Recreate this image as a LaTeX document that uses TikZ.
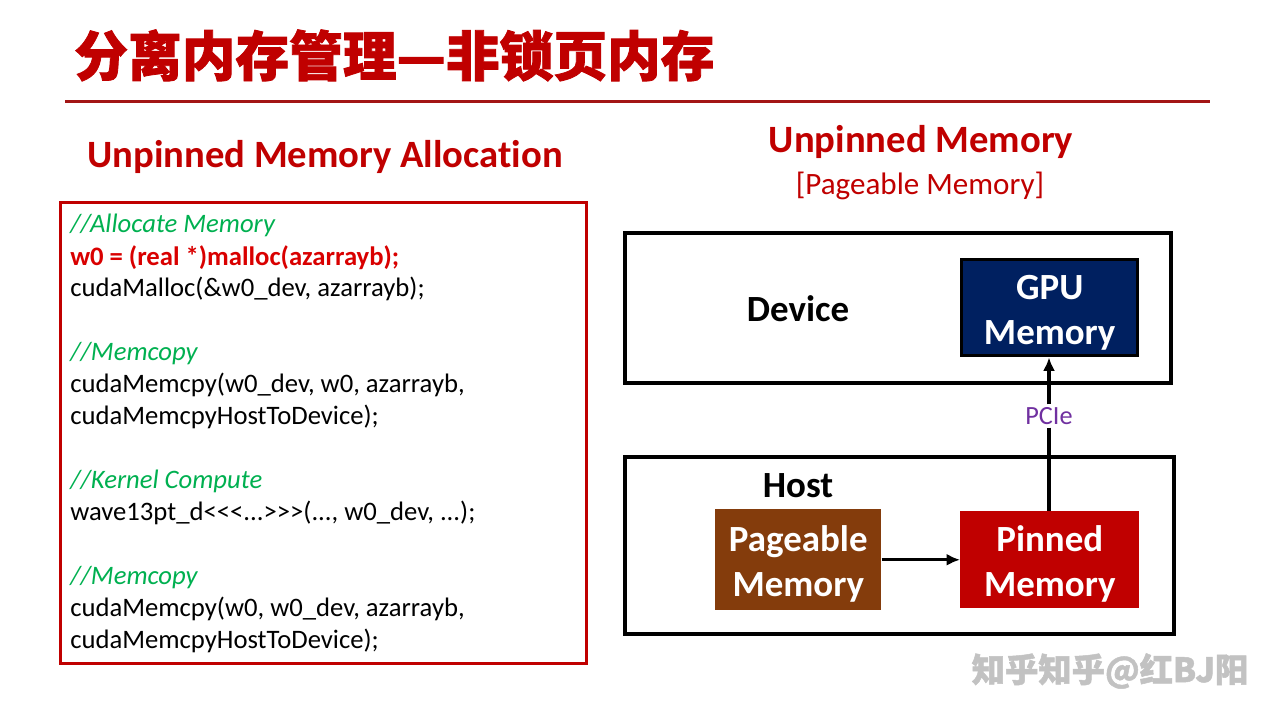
\documentclass[tikz,border=0pt]{standalone}
\usepackage{fontspec}
\setmainfont[Ligatures=NoCommon]{Carlito}
\newfontfamily\cjk[BoldFeatures={FakeBold=1.5}]{Noto Sans CJK SC}
\usetikzlibrary{arrows.meta}
\definecolor{titlered}{HTML}{C00000}
\definecolor{rulered}{HTML}{A31515}
\definecolor{codegreen}{HTML}{00B050}
\definecolor{navy}{HTML}{002060}
\definecolor{brownbox}{HTML}{843C0C}
\definecolor{pciepurple}{HTML}{7030A0}
\tikzset{
 x=0.75pt,y=-0.75pt,
 codeline/.style={anchor=base west,inner sep=0,font=\fontsize{20pt}{22pt}\selectfont},
 comment/.style={codeline,text=codegreen,font=\fontsize{20pt}{22pt}\selectfont\itshape},
 heading/.style={inner sep=0,anchor=base,text=titlered,font=\fontsize{29pt}{32pt}\selectfont\bfseries},
 region/.style={draw=black,line width=3pt,fill=white,inner sep=0},
 membox/.style={inner sep=0,text=white,align=center,font=\fontsize{27.7pt}{27.7pt}\selectfont\bfseries},
 plainlabel/.style={anchor=base,inner sep=0,font=\fontsize{27.7pt}{30pt}\selectfont\bfseries},
 dark/.style={line width=2.4pt,-{Latex[length=10pt,width=9pt]}},
}
\begin{document}
\begin{tikzpicture}
\useasboundingbox (0,0) rectangle (1280,720);
\node[anchor=base west,inner sep=0,text=titlered,font=\cjk\bfseries\fontsize{40.3pt}{44pt}\selectfont] (title) at (74,76) {分离内存管理—非锁页内存};
\coordinate (ruleL) at (65,101.5);
\coordinate (ruleR) at (1210,101.5);
\draw[rulered,line width=2.4pt] (ruleL) -- (ruleR);

\node[heading] (allochead) at (325,168) {Unpinned Memory Allocation};
\node[heading] (memhead) at (921,153) {Unpinned Memory};
\node[anchor=base,inner sep=0,text=titlered,font=\fontsize{23.3pt}{26pt}\selectfont] (pagehead) at (920,194.5) {[Pageable Memory]};

\node[draw=titlered,line width=2.2pt,inner sep=0,minimum width=526*0.75pt,minimum height=461*0.75pt,anchor=north west] (codebox) at (59,201) {};
\node[comment] (c1) at (70,233) {//Allocate Memory};
\node[codeline,text=red!85!black,font=\fontsize{20pt}{22pt}\selectfont\bfseries] (c2) at (70,265) {w0 = (real *)malloc(azarrayb);};
\node[codeline] (c3) at (70,296.5) {cudaMalloc(\&w0\_dev, azarrayb);};
\node[comment] (c4) at (70,360) {//Memcopy};
\node[codeline] (c5) at (70,392) {cudaMemcpy(w0\_dev, w0, azarrayb,};
\node[codeline] (c6) at (70,424) {cudaMemcpyHostToDevice);};
\node[comment] (c7) at (70,488) {//Kernel Compute};
\node[codeline] (c8) at (70,520.5) {wave13pt\_d<{}<{}<...>{}>{}>(..., w0\_dev, ...);};
\node[comment] (c9) at (70,584) {//Memcopy};
\node[codeline] (c10) at (70,616) {cudaMemcpy(w0, w0\_dev, azarrayb,};
\node[codeline] (c11) at (70,648) {cudaMemcpyHostToDevice);};

\node[region,minimum width=546*0.75pt,minimum height=150*0.75pt,anchor=north west] (device) at (623,231) {};
\node[region,minimum width=549*0.75pt,minimum height=177*0.75pt,anchor=north west] (host) at (623,455) {};

\node[plainlabel] (devlabel) at (798,321) {Device};
\node[plainlabel] (hostlabel) at (798,497) {Host};

\node[membox,fill=navy,draw=black,line width=2.6pt,minimum width=176*0.75pt,minimum height=96*0.75pt,anchor=north west] (gpu) at (960,258) {\rule{0pt}{25.5pt}GPU\\[6pt]Memory};
\node[membox,fill=brownbox,minimum width=166*0.75pt,minimum height=101*0.75pt,anchor=north west] (pageable) at (715,509) {\rule{0pt}{25pt}Pageable\\[6pt]Memory};
\node[membox,fill=titlered,minimum width=179*0.75pt,minimum height=97*0.75pt,anchor=north west] (pinned) at (960,511) {\rule{0pt}{25pt}Pinned\\[6pt]Memory};

\node[inner sep=2pt,fill=white,text=pciepurple,font=\fontsize{19.7pt}{22pt}\selectfont] (pcie) at (1049,416) {PCIe};
\draw[line width=2.4pt] (pcie.south) -- (pcie.south |- pinned.north);
\draw[dark] (pcie.north) -- (pcie.north |- gpu.south);
\draw[dark] (pageable.east) -- (pinned.west |- pageable.east);

\node[anchor=center,inner sep=0,text=black!24,font=\cjk\bfseries\fontsize{25pt}{27pt}\selectfont] (wm) at (1110,671) {知乎知乎@红BJ阳};
\end{tikzpicture}
\end{document}
